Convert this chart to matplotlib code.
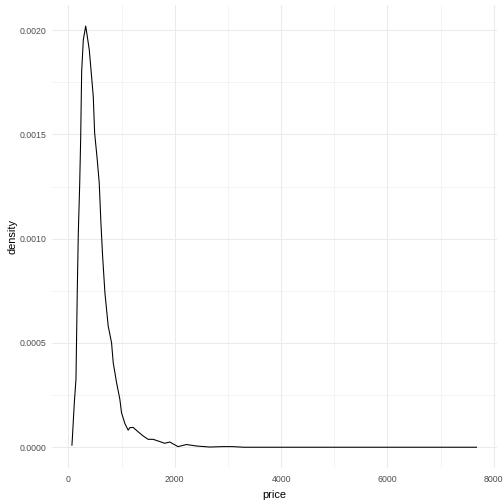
import matplotlib
matplotlib.use("Agg")
import matplotlib.pyplot as plt
from matplotlib.ticker import MultipleLocator

plt.rcParams['font.family'] = ['Liberation Sans', 'DejaVu Sans']

# density curve (price, density)
price = [68, 75, 113, 144, 169, 188, 213, 232, 251, 282, 327, 357, 394, 432, 469, 495,
         544, 581, 613, 645, 688, 750, 813, 844, 907, 969, 1000, 1063, 1125, 1157,
         1219, 1313, 1407, 1500, 1594, 1688, 1813, 1907, 2063, 2219, 2407, 2657,
         2907, 3082, 3300, 4000, 5000, 6000, 7000, 7673]
density = [0.000010, 0.000038, 0.000214, 0.000326, 0.000757, 0.001028, 0.001252,
           0.001475, 0.001802, 0.001954, 0.002020, 0.001970, 0.001906, 0.001794,
           0.001683, 0.001507, 0.001379, 0.001268, 0.001076, 0.000916, 0.000741,
           0.000581, 0.000501, 0.000406, 0.000310, 0.000230, 0.000166, 0.000114,
           0.000082, 0.000094, 0.000095, 0.000074, 0.000054, 0.000038, 0.000038,
           0.000030, 0.000019, 0.000025, 0.000003, 0.000013, 0.000006, 0.000001,
           0.000003, 0.000003, 0.000000, 0.000000, 0.000000, 0.000000, 0.000000,
           0.000000]

fig = plt.figure(figsize=(7, 7), dpi=72)
ax = fig.add_axes([51.7 / 504, 1 - 468.3 / 504, 445 / 504, 463.3 / 504])

ax.plot(price, density, color='black', linewidth=1.07)

# ggplot style 5% expansion
xr = max(price) - min(price)
ax.set_xlim(min(price) - 0.05 * xr, max(price) + 0.05 * xr)
yr = max(density)
ax.set_ylim(-0.05 * yr, yr * 1.05)

ax.xaxis.set_major_locator(MultipleLocator(2000))
ax.xaxis.set_minor_locator(MultipleLocator(1000))
ax.yaxis.set_major_locator(MultipleLocator(0.0005))
ax.yaxis.set_minor_locator(MultipleLocator(0.00025))
ax.yaxis.set_major_formatter(plt.FuncFormatter(lambda v, p: f"{v:.4f}"))

ax.grid(which='major', color='#EBEBEB', linewidth=1.07)
ax.grid(which='minor', color='#EBEBEB', linewidth=0.53)
ax.set_axisbelow(True)
for s in ax.spines.values():
    s.set_visible(False)
ax.tick_params(which='both', length=0)
ax.tick_params(axis='both', labelsize=8.8, labelcolor='#4D4D4D')
ax.tick_params(axis='x', pad=6.5)
ax.tick_params(axis='y', pad=5)

ax.set_xlabel('price', fontsize=11, labelpad=6)
ax.set_ylabel('density', fontsize=11, labelpad=2.5)

fig.savefig('out.png', dpi=72)
